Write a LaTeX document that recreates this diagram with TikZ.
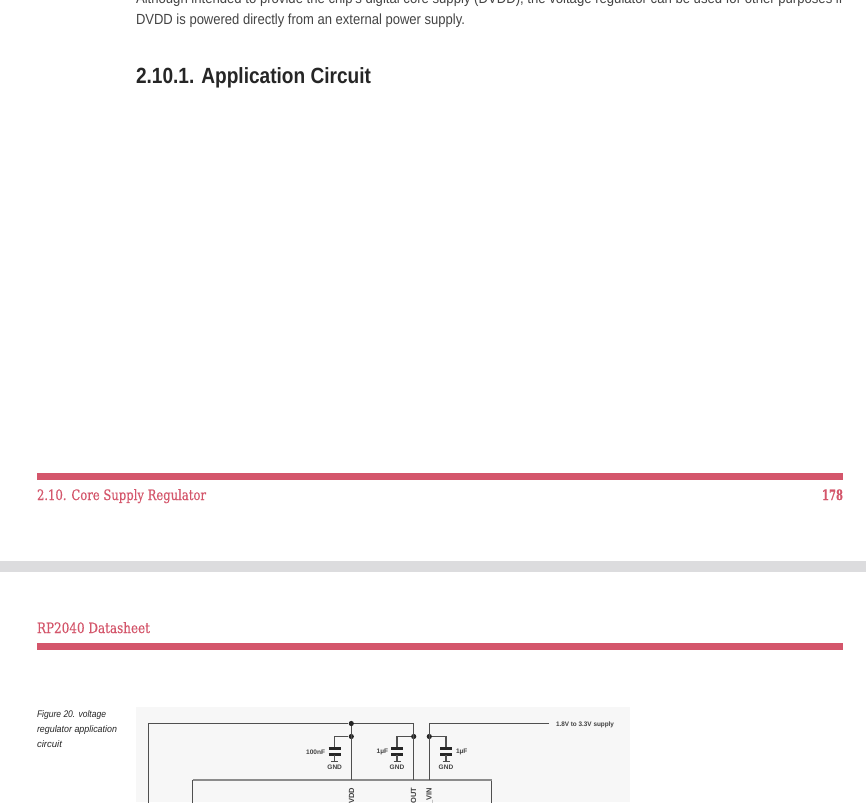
\documentclass[tikz,border=0pt]{standalone}
\usepackage{fontspec}
\setmainfont{Liberation Sans}
\newfontfamily\slabfont{DejaVu Serif}[FakeBold=0.3]
\definecolor{rpired}{HTML}{D4566B}
\definecolor{bandgrey}{HTML}{DCDCDE}
\definecolor{figbg}{HTML}{F7F7F7}
\definecolor{wire}{HTML}{505050}
\definecolor{bodytxt}{HTML}{444444}
\tikzset{
  x=0.75pt,y=-0.75pt,
  txt/.style={inner sep=0pt,outer sep=0pt,anchor=base west},
  bodyline/.style={txt,text=bodytxt,font=\fontsize{11pt}{12pt}\selectfont},
  slab/.style={txt,text=rpired,font=\slabfont\fontsize{10.8pt}{12pt}\selectfont},
  caption/.style={txt,text=black!85,font=\itshape\fontsize{7.2pt}{8pt}\selectfont},
  small/.style={inner sep=0pt,outer sep=0pt,text=black!75,font=\bfseries\fontsize{4.9pt}{5pt}\selectfont},
  pinlabel/.style={inner sep=0pt,outer sep=0pt,text=black!75,font=\bfseries\fontsize{5.6pt}{6pt}\selectfont,rotate=90,anchor=east},
  wireline/.style={draw=wire,line width=0.8pt},
  plate/.style={draw=black!85,line width=1.9pt},
  jdot/.style={circle,fill=black!85,inner sep=0pt,minimum size=3.9pt},
  redbar/.style={fill=rpired},
}
\begin{document}
\begin{tikzpicture}
\useasboundingbox (0,0) rectangle (866,802);
\clip (0,0) rectangle (866,802);
\fill[white] (0,0) rectangle (866,802);
% page text
\node[bodyline] (l1) at (136,4) {\resizebox{530pt}{\height}{Although intended to provide the chip's digital core supply (DVDD), the voltage regulator can be used for other purposes if}};
\node[bodyline] (l2) at (136,25) {\resizebox{246.75pt}{\height}{DVDD is powered directly from an external power supply.}};
\node[txt,text=black!85,font=\bfseries\fontsize{16.5pt}{18pt}\selectfont] (h) at (136,84) {\resizebox{176.25pt}{\height}{2.10.1. Application Circuit}};
% footer / band / header
\fill[redbar] (37,472.5) rectangle (843,479.5);
\node[slab] (foot) at (37,500) {\resizebox{126.75pt}{\height}{2.10. Core Supply Regulator}};
\node[txt,anchor=base east,text=rpired,font=\slabfont\bfseries\fontsize{10.8pt}{12pt}\selectfont] (pg) at (843,500) {\resizebox{15.75pt}{\height}{178}};
\fill[bandgrey] (0,561) rectangle (866,571.5);
\node[slab] (head) at (37,633) {\resizebox{84.75pt}{\height}{RP2040 Datasheet}};
\fill[redbar] (37,643) rectangle (843,650);
% caption
\node[caption] (c1) at (37,717) {\resizebox{51.75pt}{\height}{Figure 20. voltage}};
\node[caption] (c2) at (37,732.5) {\resizebox{60pt}{\height}{regulator application}};
\node[caption] (c3) at (37,747.5) {\resizebox{18.75pt}{\height}{circuit}};
% figure
\fill[figbg] (136,707) rectangle (630,802);
\coordinate (tl) at (148.5,723.5);
\coordinate (bl) at (148.5,810);
\node[jdot] (j1) at (351.3,723.5) {};
\node[jdot] (j2) at (351.3,736.5) {};
\node[jdot] (j3) at (413.7,736.5) {};
\node[jdot] (j4) at (429.3,736.5) {};
\coordinate (tm) at (413.7,723.5);
\coordinate (tn) at (429.3,723.5);
\coordinate (sup) at (549,723.5);
\coordinate (p1) at (351.3,780);
\coordinate (p2) at (413.7,780);
\coordinate (p3) at (429.3,780);
\node[small,anchor=west] (supl) at (556,724.5) {\resizebox{43.5pt}{\height}{1.8V to 3.3V supply}};
% chip
\coordinate (bxl) at (192.7,780);
\coordinate (bxr) at (491.7,780);
\coordinate (bxlb) at (192.7,810);
\coordinate (bxrb) at (491.7,810);
\draw[wireline] (bxlb) -- (bxl);
\draw[wireline] (bxrb) -- (bxr);
\draw[draw=black!45,line width=1.2pt] (bxl) -- (bxr);
\draw[wireline] (bl) -- (tl) -- (j1) -- (tm) -- (p2);
\draw[wireline] (sup) -- (tn) -- (p3);
\draw[wireline] (j1) -- (p1);
% capacitors
\foreach \n/\cx/\jn in {a/334.7/j2,b/397/j3,c/446/j4}{
  \coordinate (\n t) at (\cx,748.5);
  \coordinate (\n b) at (\cx,754.5);
  \coordinate (\n g) at (\cx,761.5);
  \draw[wireline] (\jn) -| (\n t);
  \draw[plate] (\cx-6,748.5) -- (\cx+6,748.5);
  \draw[plate] (\cx-6,754.5) -- (\cx+6,754.5);
  \draw[wireline] (\n b) -- (\n g);
  \draw[draw=black!70,line width=0.7pt] (\cx-3.5,761.5) -- (\cx+3.5,761.5);
  \node[small] (\n gnd) at (\cx,767) {GND};
}
\node[small,anchor=east] (v1) at (325,752) {100nF};
\node[small,anchor=east] (v2) at (388,752) {1µF};
\node[small,anchor=west] (v3) at (456,752) {1µF};
\node[pinlabel] (pa) at (351.5,788) {DVDD};
\node[pinlabel] (pb) at (414,788) {VREG\_VOUT};
\node[pinlabel] (pc) at (429.5,788) {VREG\_VIN};
\end{tikzpicture}
\end{document}
